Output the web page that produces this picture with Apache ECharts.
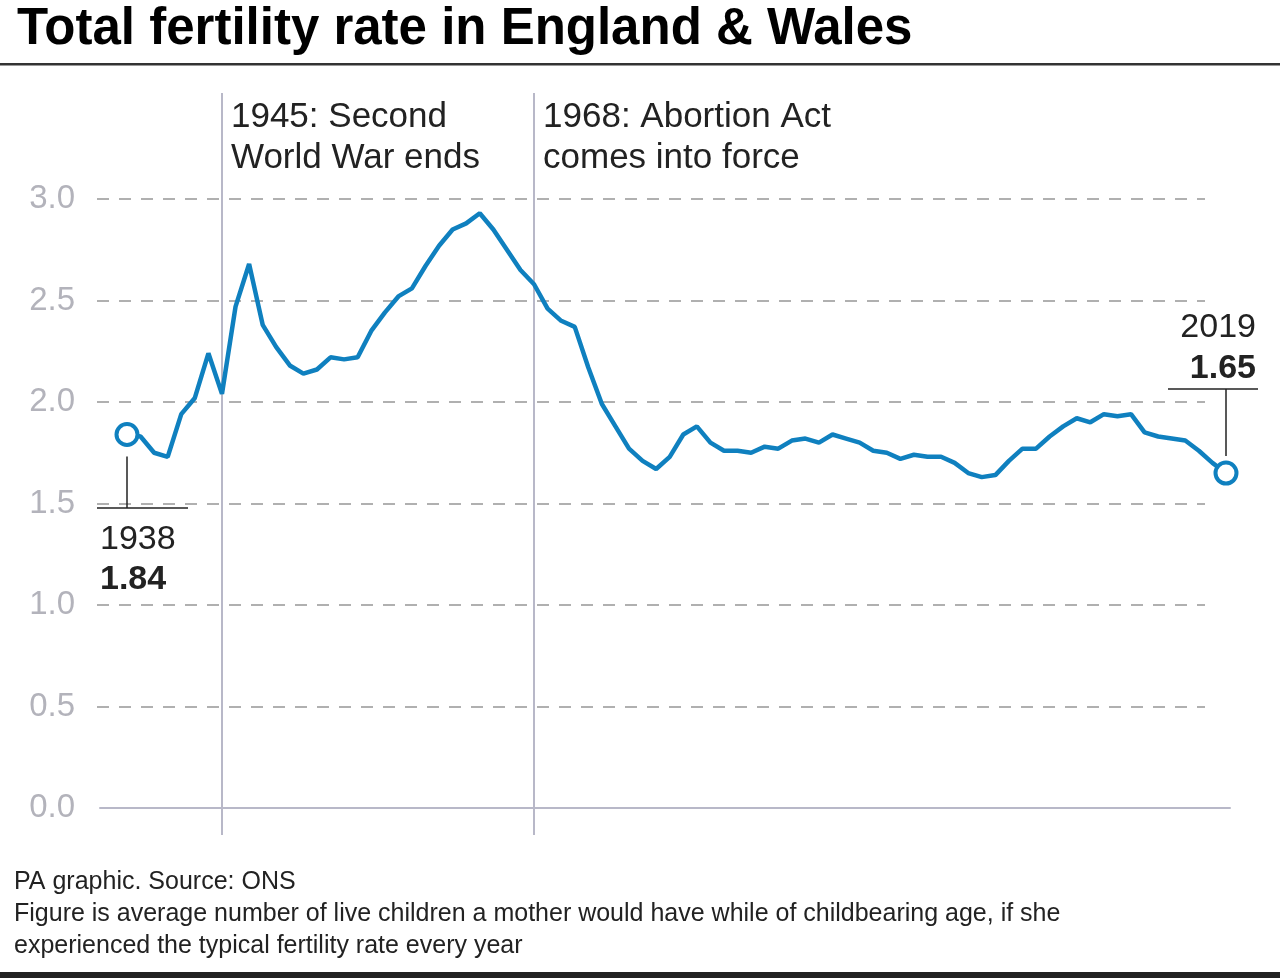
<!DOCTYPE html>
<html>
<head>
<meta charset="utf-8">
<script src="https://cdn.jsdelivr.net/npm/echarts@6/dist/echarts.min.js"></script>
<style>
html,body{margin:0;padding:0;background:#fff;}
#chart{width:1280px;height:978px;}
</style>
</head>
<body>
<div id="chart"></div>
<script>
const years = [];
for (let y = 1938; y <= 2019; y++) years.push(y);
const tfr = [
  1.84,1.83,1.75,1.73,1.94,2.02,2.24,2.04,2.47,2.68,
  2.38,2.27,2.18,2.14,2.16,2.22,2.21,2.22,2.35,2.44,
  2.52,2.56,2.67,2.77,2.85,2.88,2.93,2.85,2.75,2.65,
  2.58,2.46,2.40,2.37,2.17,1.99,1.88,1.77,1.71,1.67,
  1.73,1.84,1.88,1.80,1.76,1.76,1.75,1.78,1.77,1.81,
  1.82,1.80,1.84,1.82,1.80,1.76,1.75,1.72,1.74,1.73,
  1.73,1.70,1.65,1.63,1.64,1.71,1.77,1.77,1.83,1.88,
  1.92,1.90,1.94,1.93,1.94,1.85,1.83,1.82,1.81,1.76,
  1.70,1.65
];
const yTicks = [0, 0.5, 1, 1.5, 2, 2.5, 3];
const events = [
  {year: 1945, lines: ['1945: Second', 'World War ends']},
  {year: 1968, lines: ['1968: Abortion Act', 'comes into force']}
];
const endLabels = [
  {year: 1938, value: '1.84'},
  {year: 2019, value: '1.65'}
];
const titleText = 'Total fertility rate in England & Wales';
const footer = [
  'PA graphic. Source: ONS',
  'Figure is average number of live children a mother would have while of childbearing age, if she',
  'experienced the typical fertility rate every year'
];

const BLUE = '#0f80bf';
const GRIDC = '#b8b8c8';
const FONT = '"Liberation Sans", Arial, sans-serif';

const data = years.map((y, i) => {
  const item = {value: [y, tfr[i]]};
  if (i === 0 || i === years.length - 1) {
    item.symbol = 'circle';
    item.symbolSize = 21;
    item.itemStyle = {color: '#fff', borderColor: BLUE, borderWidth: 4};
  }
  return item;
});

const chart = echarts.init(document.getElementById('chart'), null, {renderer: 'canvas'});
const plotTop = 199, plotH = 609;
chart.setOption({
  animation: false,
  title: {
    text: titleText, left: 12, top: -1,
    textStyle: {fontFamily: FONT, fontWeight: 'bold', fontSize: 51, color: '#000'}
  },
  grid: [
    {left: 97, right: 75, top: plotTop, height: plotH},
    {left: 100, right: 50, top: plotTop, height: plotH},
    {left: 127, right: 54, top: plotTop, height: plotH},
    {left: 127, right: 54, top: 93, bottom: 143}
  ],
  xAxis: [
    {gridIndex: 0, type: 'value', min: 0, max: 1, show: false},
    {gridIndex: 1, type: 'value', min: 0, max: 1, axisLine: {show: true, lineStyle: {color: GRIDC, width: 2}},
     axisTick: {show: false}, axisLabel: {show: false}, splitLine: {show: false}},
    {gridIndex: 2, type: 'value', min: 1938, max: 2019, show: false},
    {gridIndex: 3, type: 'value', min: 1938, max: 2019, show: false}
  ],
  yAxis: [
    {gridIndex: 0, type: 'value', min: 0, max: 3, interval: 0.5,
     axisLine: {show: false}, axisTick: {show: false},
     axisLabel: {formatter: v => v.toFixed(1), color: '#b3b3bb', fontSize: 33, fontFamily: FONT, margin: 22},
     splitLine: {show: true, showMinLine: false, lineStyle: {color: '#b0b0b0', width: 2, type: [12, 10]}}},
    {gridIndex: 1, type: 'value', min: 0, max: 3, show: false},
    {gridIndex: 2, type: 'value', min: 0, max: 3, show: false},
    {gridIndex: 3, type: 'value', min: 0, max: 1, show: false}
  ],
  series: [
    {type: 'line', xAxisIndex: 3, yAxisIndex: 3, data: [], silent: true,
     markLine: {silent: true, symbol: 'none', label: {show: false},
       lineStyle: {color: GRIDC, width: 2, type: 'solid'},
       data: events.map(e => ({xAxis: e.year}))}},
    {type: 'line', xAxisIndex: 2, yAxisIndex: 2, data: data, symbol: 'none', showSymbol: true,
     lineStyle: {color: BLUE, width: 4.5}, itemStyle: {color: BLUE}, z: 5}
  ]
});

function px(year, v) { return chart.convertToPixel({xAxisIndex: 2, yAxisIndex: 2}, [year, v]); }
function evx(year) { return chart.convertToPixel({xAxisIndex: 3, yAxisIndex: 3}, [year, 1]); }

const g = [];
g.push({type: 'rect', shape: {x: 0, y: 63, width: 1280, height: 2.5}, style: {fill: '#333'}});
g.push({type: 'rect', shape: {x: 0, y: 972, width: 1280, height: 6}, style: {fill: '#222'}});
events.forEach(e => {
  const p = evx(e.year);
  e.lines.forEach((t, i) => {
    g.push({type: 'text', x: p[0] + 9, y: 117 + i * 41,
      style: {text: t, font: '35px ' + FONT, fill: '#222', textVerticalAlign: 'middle', textAlign: 'left'}});
  });
});
{
  const e = endLabels[0];
  const p = px(e.year, tfr[0]);
  g.push({type: 'line', shape: {x1: p[0], y1: p[1] + 22, x2: p[0], y2: 508}, style: {stroke: '#222', lineWidth: 1.5}});
  g.push({type: 'line', shape: {x1: 97, y1: 508, x2: 188, y2: 508}, style: {stroke: '#222', lineWidth: 1.5}});
  g.push({type: 'text', x: 100, y: 540, style: {text: String(e.year), font: '34px ' + FONT, fill: '#222', textVerticalAlign: 'middle'}});
  g.push({type: 'text', x: 100, y: 580, style: {text: e.value, font: 'bold 34px ' + FONT, fill: '#222', textVerticalAlign: 'middle'}});
}
{
  const e = endLabels[1];
  const p = px(e.year, tfr[tfr.length - 1]);
  g.push({type: 'line', shape: {x1: p[0], y1: 389, x2: p[0], y2: p[1] - 17}, style: {stroke: '#222', lineWidth: 1.5}});
  g.push({type: 'line', shape: {x1: 1168, y1: 389, x2: 1258, y2: 389}, style: {stroke: '#222', lineWidth: 1.5}});
  g.push({type: 'text', x: 1256, y: 328, style: {text: String(e.year), font: '34px ' + FONT, fill: '#222', textVerticalAlign: 'middle', textAlign: 'right'}});
  g.push({type: 'text', x: 1256, y: 369, style: {text: e.value, font: 'bold 34px ' + FONT, fill: '#222', textVerticalAlign: 'middle', textAlign: 'right'}});
}
footer.forEach((t, i) => {
  g.push({type: 'text', x: 14, y: 882 + i * 32, style: {text: t, font: '25px ' + FONT, fill: '#222', textVerticalAlign: 'middle'}});
});
chart.setOption({graphic: g});
</script>
</body>
</html>
